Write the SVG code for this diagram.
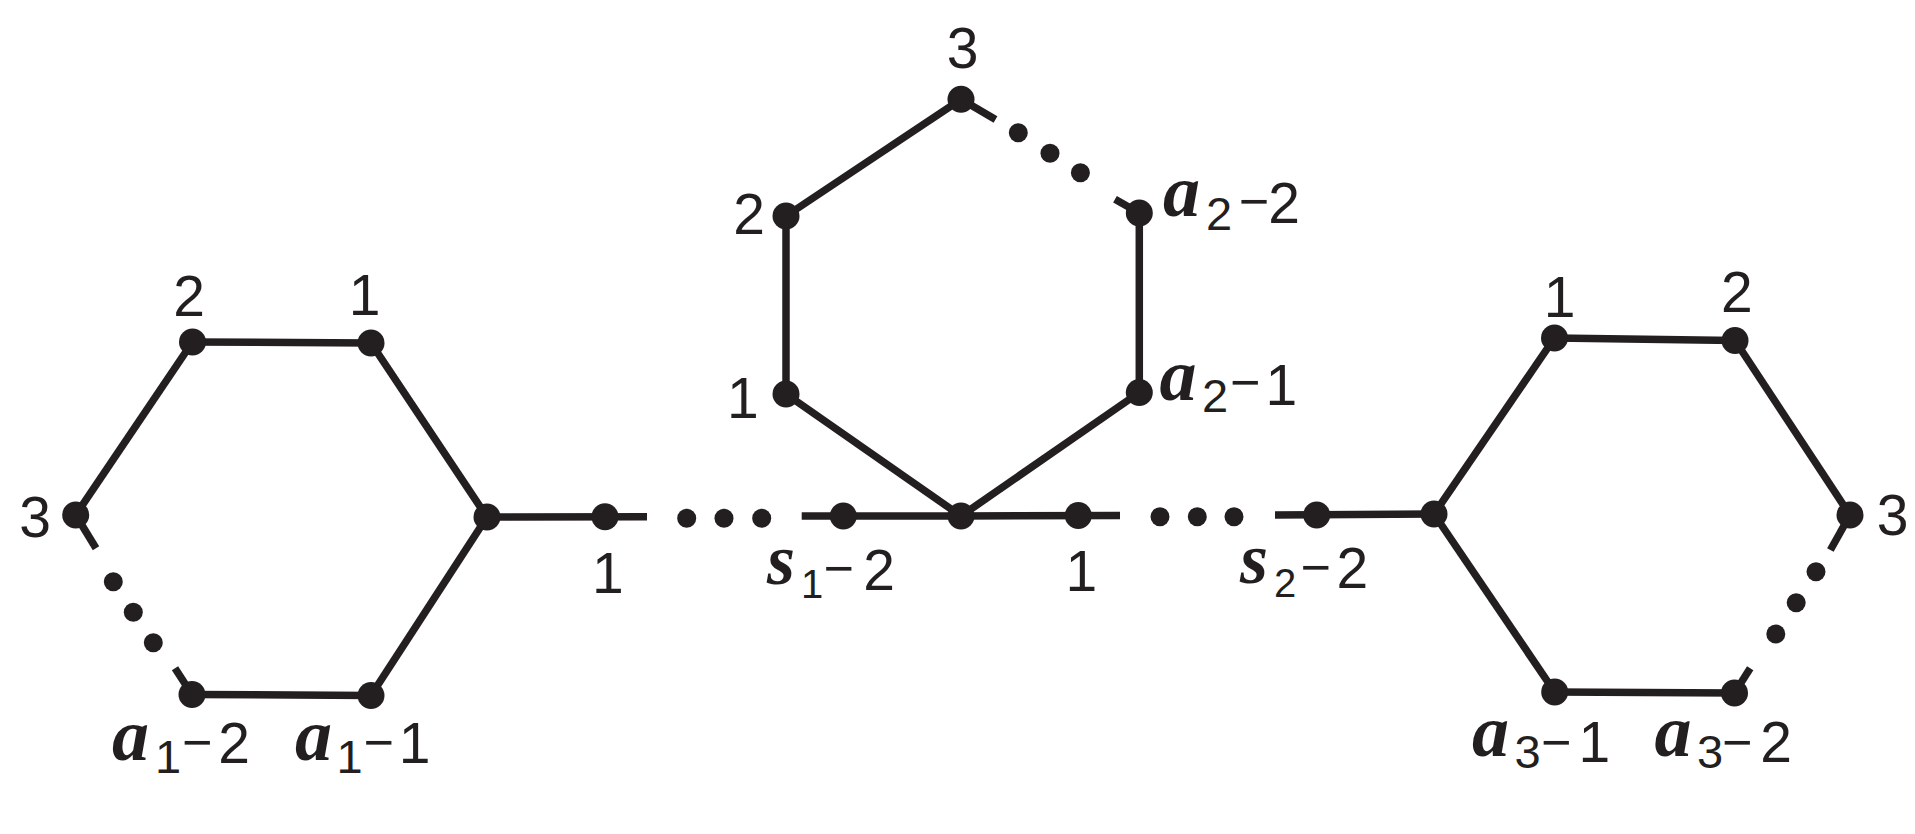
<svg xmlns="http://www.w3.org/2000/svg" width="1915" height="834" viewBox="0 0 1915 834">
<style>
.e{stroke:#231f20;stroke-width:7.5;fill:none}
.n{fill:#231f20}
.t{font-family:"Liberation Sans",Arial,sans-serif;font-size:57px;fill:#231f20}
.v{font-family:"Liberation Serif","Times New Roman",serif;font-style:italic;font-weight:bold;font-size:74px}
.vs{font-family:"Liberation Serif","Times New Roman",serif;font-style:italic;font-weight:bold;font-size:72px}
.sub{font-size:47px}
.ss{font-size:40px}
.mn{font-size:52px}
</style>
<rect width="1915" height="834" fill="#ffffff"/>
<g id="connectors">
  <line class="e" x1="192.5" y1="342" x2="371" y2="343"/>
  <line class="e" x1="371" y1="343" x2="487" y2="517"/>
  <line class="e" x1="487" y1="517" x2="371" y2="695.5"/>
  <line class="e" x1="371" y1="695.5" x2="192" y2="694.5"/>
  <line class="e" x1="192.5" y1="342" x2="75.7" y2="515"/>
  <line class="e" x1="75.7" y1="515" x2="96" y2="548.3"/>
  <line class="e" x1="175" y1="668.3" x2="192" y2="694.5"/>
  <circle class="n" cx="113.3" cy="581.7" r="9.5"/>
  <circle class="n" cx="133.3" cy="612.3" r="9.5"/>
  <circle class="n" cx="153.3" cy="642.7" r="9.5"/>
  <line class="e" x1="961" y1="99.3" x2="786" y2="216"/>
  <line class="e" x1="786" y1="216" x2="786" y2="394"/>
  <line class="e" x1="786" y1="394" x2="961" y2="516"/>
  <line class="e" x1="961" y1="516" x2="1139.3" y2="392.5"/>
  <line class="e" x1="1139.3" y1="392.5" x2="1139.3" y2="213"/>
  <line class="e" x1="961" y1="99.3" x2="995.5" y2="119.5"/>
  <line class="e" x1="1115" y1="199.3" x2="1139.3" y2="213"/>
  <circle class="n" cx="1018.3" cy="132.7" r="9.5"/>
  <circle class="n" cx="1050" cy="153.3" r="9.5"/>
  <circle class="n" cx="1080.4" cy="172.7" r="9.5"/>
  <line class="e" x1="1434" y1="514" x2="1554.5" y2="338"/>
  <line class="e" x1="1554.5" y1="338" x2="1735" y2="340.5"/>
  <line class="e" x1="1735" y1="340.5" x2="1850" y2="515"/>
  <line class="e" x1="1434" y1="514" x2="1554.7" y2="692"/>
  <line class="e" x1="1554.7" y1="692" x2="1734.5" y2="693"/>
  <line class="e" x1="1850" y1="515" x2="1830.4" y2="550"/>
  <line class="e" x1="1750.2" y1="668.3" x2="1734.5" y2="693"/>
  <circle class="n" cx="1816" cy="571.7" r="9.5"/>
  <circle class="n" cx="1796.2" cy="602.7" r="9.5"/>
  <circle class="n" cx="1775.8" cy="634" r="9.5"/>
  <line class="e" x1="487" y1="517" x2="647" y2="516.7"/>
  <circle class="n" cx="686.7" cy="518.3" r="9.5"/>
  <circle class="n" cx="724" cy="518.3" r="9.5"/>
  <circle class="n" cx="761.7" cy="518.3" r="9.5"/>
  <line class="e" x1="801.7" y1="516" x2="961" y2="516"/>
  <line class="e" x1="961" y1="516" x2="1120" y2="515.5"/>
  <circle class="n" cx="1160" cy="516.7" r="9.5"/>
  <circle class="n" cx="1197.3" cy="516.7" r="9.5"/>
  <circle class="n" cx="1234" cy="516.7" r="9.5"/>
  <line class="e" x1="1275" y1="515" x2="1434" y2="514"/>
</g>
<g id="L2"><circle class="n" cx="192.5" cy="342" r="13.5"/><text class="t" x="173.3" y="315.7">2</text></g>
<g id="L1"><circle class="n" cx="371" cy="343" r="13.5"/><text class="t" x="348.8" y="315">1</text></g>
<g id="L3"><circle class="n" cx="75.7" cy="515" r="13.5"/><text class="t" x="19.2" y="536.7">3</text></g>
<g id="Lhub"><circle class="n" cx="487" cy="517" r="13.5"/></g>
<g id="La2"><circle class="n" cx="192" cy="694.5" r="13.5"/><text class="t"><tspan class="v" x="112" y="760">a</tspan><tspan class="sub" x="155" y="773.3">1</tspan><tspan class="mn" x="182" y="760">−</tspan><tspan x="218.3" y="763.3">2</tspan></text></g>
<g id="La1"><circle class="n" cx="371" cy="695.5" r="13.5"/><text class="t"><tspan class="v" x="295" y="760">a</tspan><tspan class="sub" x="336.5" y="773.3">1</tspan><tspan class="mn" x="363.5" y="760">−</tspan><tspan x="398.8" y="763.3">1</tspan></text></g>
<g id="M3"><circle class="n" cx="961" cy="99.3" r="13.5"/><text class="t" x="946.8" y="68.3">3</text></g>
<g id="M2"><circle class="n" cx="786" cy="216" r="13.5"/><text class="t" x="733.3" y="234.3">2</text></g>
<g id="M1"><circle class="n" cx="786" cy="394" r="13.5"/><text class="t" x="727" y="418.3">1</text></g>
<g id="Ma2"><circle class="n" cx="1139.3" cy="213" r="13.5"/><text class="t"><tspan class="v" x="1163" y="216">a</tspan><tspan class="sub" x="1206" y="230">2</tspan><tspan class="mn" x="1238.7" y="219">−</tspan><tspan x="1268.3" y="222.7">2</tspan></text></g>
<g id="Ma1"><circle class="n" cx="1139.3" cy="392.5" r="13.5"/><text class="t"><tspan class="v" x="1159.5" y="400">a</tspan><tspan class="sub" x="1202" y="411.7">2</tspan><tspan class="mn" x="1230" y="400">−</tspan><tspan x="1265.5" y="405">1</tspan></text></g>
<g id="C"><circle class="n" cx="961" cy="516" r="13.5"/></g>
<g id="P1"><circle class="n" cx="605" cy="516.7" r="13.5"/><text class="t" x="592" y="593">1</text></g>
<g id="Ps1"><circle class="n" cx="843.3" cy="516" r="13.5"/><text class="t"><tspan class="vs" x="767" y="584">s</tspan><tspan class="ss" x="801" y="598.3">1</tspan><tspan class="mn" x="823.5" y="586">−</tspan><tspan x="863.3" y="590">2</tspan></text></g>
<g id="Q1"><circle class="n" cx="1078.3" cy="515.5" r="13.5"/><text class="t" x="1065.5" y="590.7">1</text></g>
<g id="Qs2"><circle class="n" cx="1316.7" cy="515" r="13.5"/><text class="t"><tspan class="vs" x="1240" y="583">s</tspan><tspan class="ss" x="1274" y="596.7">2</tspan><tspan class="mn" x="1300.5" y="584.5">−</tspan><tspan x="1336.6" y="588.3">2</tspan></text></g>
<g id="Rhub"><circle class="n" cx="1434" cy="514" r="13.5"/></g>
<g id="R1"><circle class="n" cx="1554.5" cy="338" r="13.5"/><text class="t" x="1543.8" y="316.7">1</text></g>
<g id="R2"><circle class="n" cx="1735" cy="340.5" r="13.5"/><text class="t" x="1721" y="311.7">2</text></g>
<g id="R3"><circle class="n" cx="1850" cy="515" r="13.5"/><text class="t" x="1876.8" y="535">3</text></g>
<g id="Ra1"><circle class="n" cx="1554.7" cy="692" r="13.5"/><text class="t"><tspan class="v" x="1472" y="756">a</tspan><tspan class="sub" x="1514.5" y="768.3">3</tspan><tspan class="mn" x="1541" y="760">−</tspan><tspan x="1578.5" y="761.7">1</tspan></text></g>
<g id="Ra2"><circle class="n" cx="1734.5" cy="693" r="13.5"/><text class="t"><tspan class="v" x="1654.5" y="756">a</tspan><tspan class="sub" x="1697" y="768">3</tspan><tspan class="mn" x="1722" y="760">−</tspan><tspan x="1760.3" y="762">2</tspan></text></g>
</svg>
